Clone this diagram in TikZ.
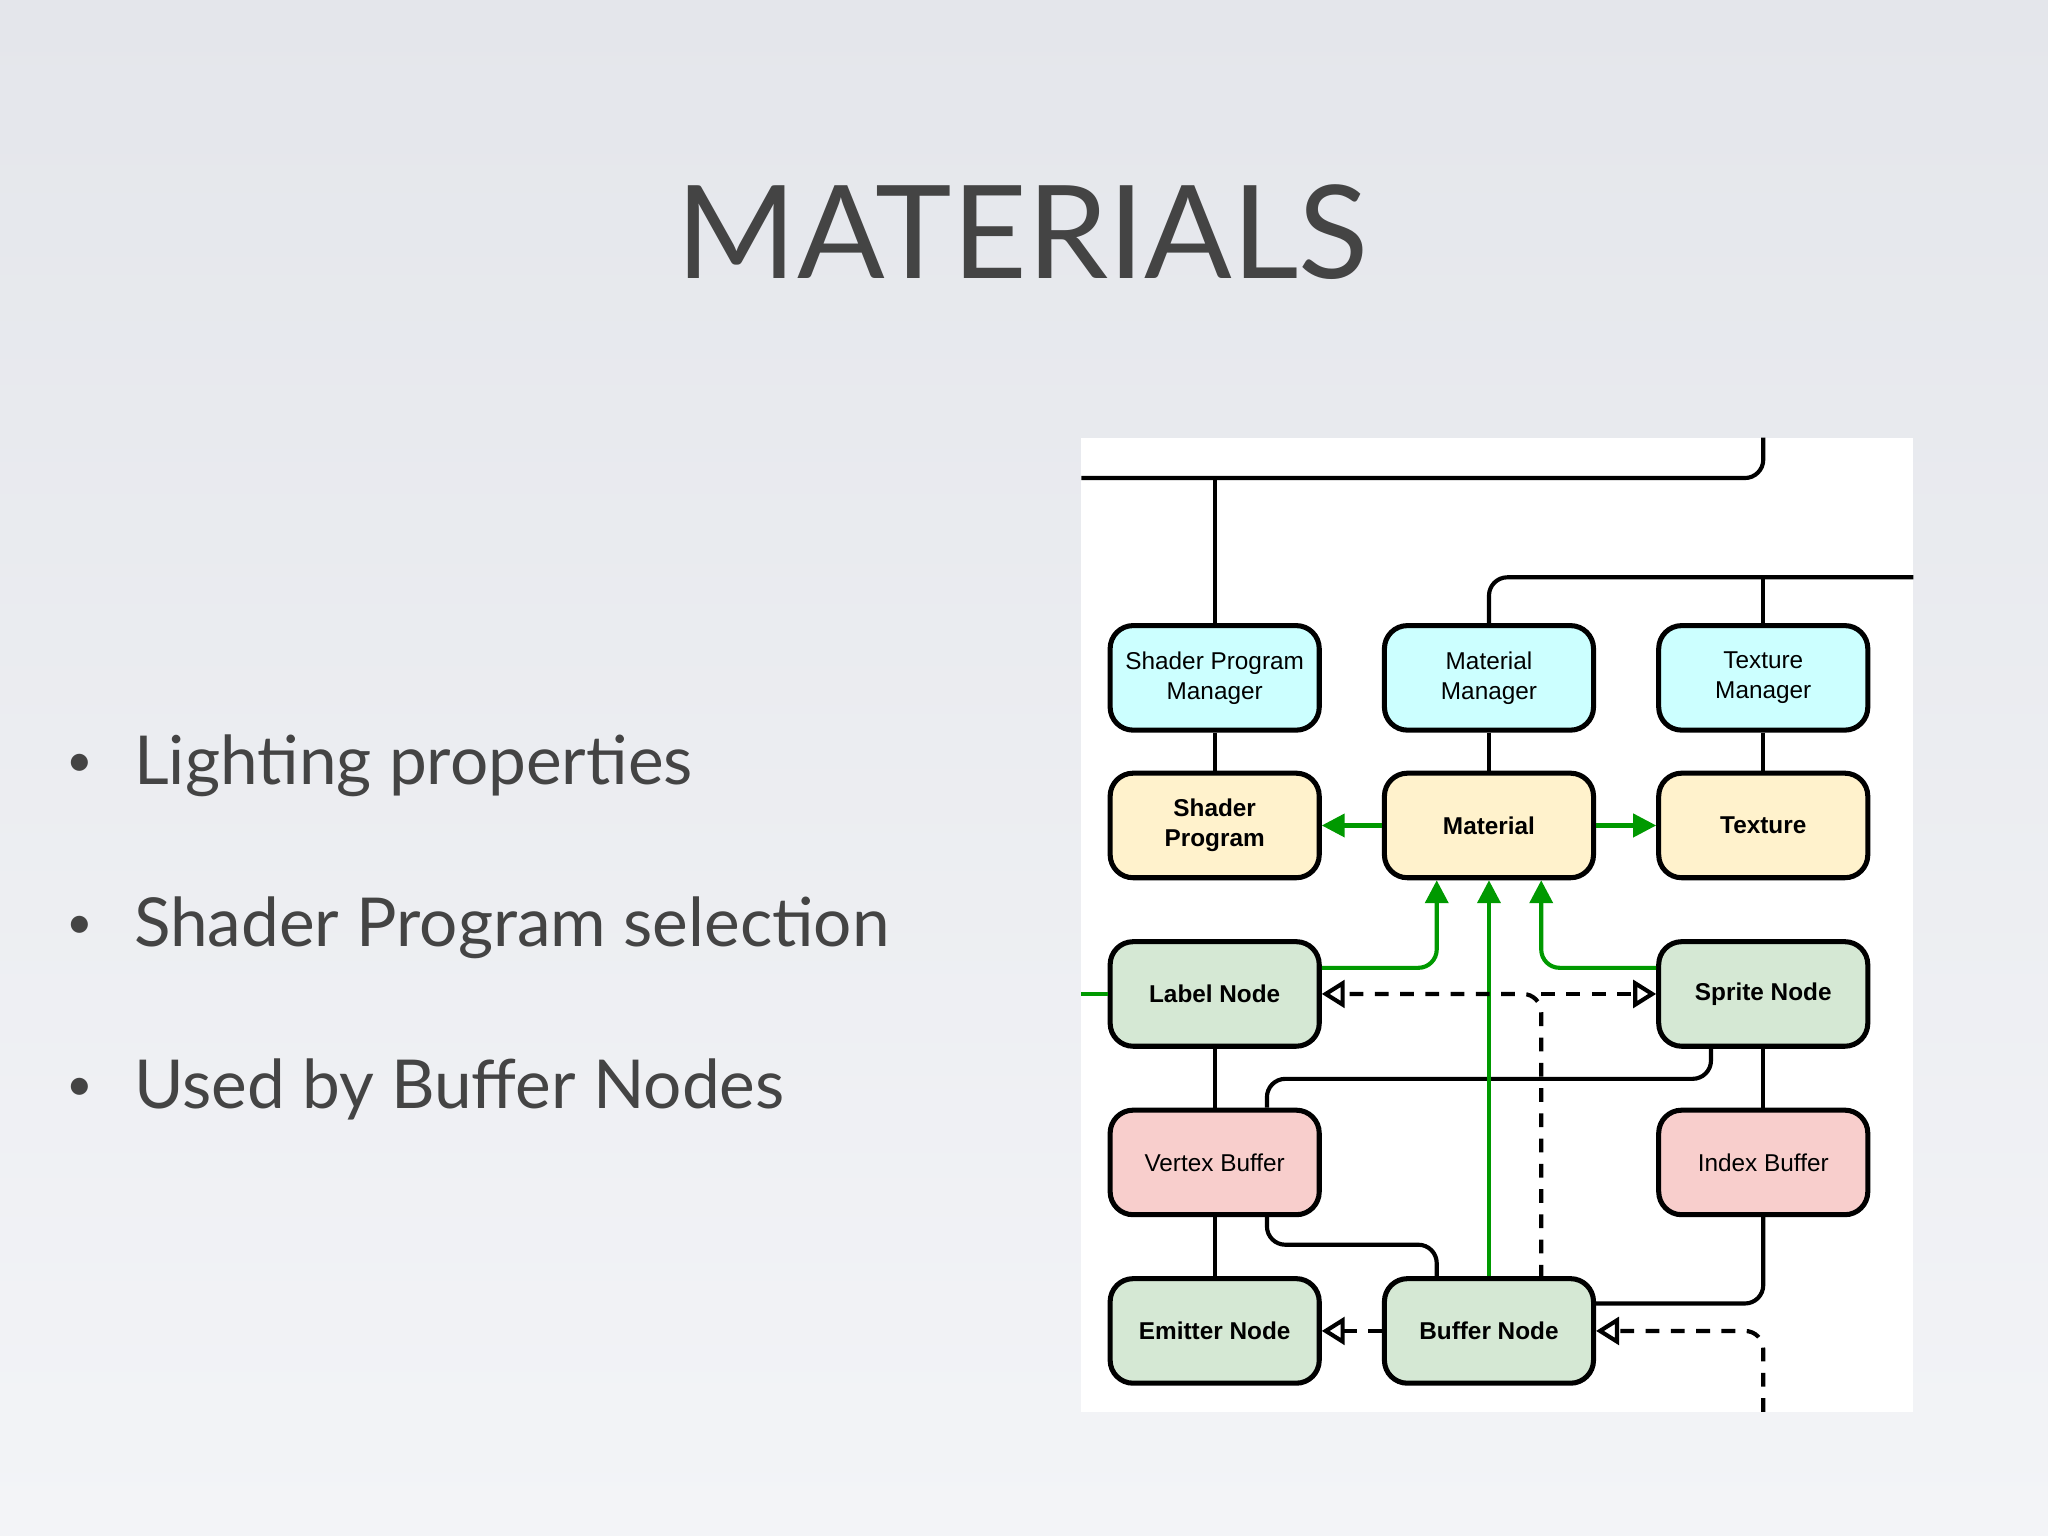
\documentclass[tikz,border=0pt]{standalone}
\usepackage{fontspec}
\setmainfont{Lato}
\newfontfamily\diag{Liberation Sans}
\usetikzlibrary{arrows.meta}
\definecolor{bgA}{HTML}{E4E6EB}
\definecolor{bgB}{HTML}{F3F4F7}
\definecolor{mgr}{HTML}{CCFFFF}
\definecolor{obj}{HTML}{FFF2CC}
\definecolor{nod}{HTML}{D5E8D4}
\definecolor{buf}{HTML}{F8CECC}
\definecolor{grn}{HTML}{009900}
\definecolor{ink}{HTML}{444444}
\begin{document}
\begin{tikzpicture}[x=0.01cm,y=-0.01cm,
  box/.style={draw=black,line width=1.1pt,rounded corners=5pt,minimum width=1.6cm,minimum height=0.8cm,
    align=center,font=\diag\fontsize{5.3}{6.6}\selectfont,inner sep=1pt},
  bl/.style={draw=black,line width=0.9pt,rounded corners=4pt},
  gr/.style={draw=grn,line width=0.9pt,rounded corners=4pt,-{Triangle[length=5pt,width=5pt]}},
  ds/.style={draw=black,line width=0.9pt,dash pattern=on 3pt off 2.5pt,rounded corners=4pt,-{Triangle[open,length=5pt,width=6pt]}}]
\useasboundingbox (0,0) rectangle (1568,1176);
\shade[top color=bgA,bottom color=bgB] (0,0) rectangle (1568,1176);
\node[font=\fontsize{28.2}{32}\selectfont,text=ink] (title) at (783,178) {MATERIALS};
\foreach \t/\yy [count=\i] in {Lighting properties/586,Shader Program selection/710,Used by Buffer Nodes/834}{
  \node[font=\fontsize{10}{12}\selectfont,text=ink] (d\i) at (61,\yy) {\textbullet};
  \node[font=\fontsize{14.7}{18}\selectfont,text=ink,anchor=west,inner sep=0pt] (b\i) at (102,\yy) {\t};
}
\fill[white] (828,335) rectangle (1465,1081);
\node[box,fill=mgr] (spm) at (930,519) {Shader Program\\Manager};
\node[box,fill=mgr] (mm) at (1140,519) {Material\\Manager};
\node[box,fill=mgr] (tm) at (1350,519) {Texture\\Manager};
\node[box,fill=obj] (sp) at (930,632) {\bfseries Shader\\\bfseries Program};
\node[box,fill=obj] (mat) at (1140,632) {\bfseries Material};
\node[box,fill=obj] (tex) at (1350,632) {\bfseries Texture};
\node[box,fill=nod] (ln) at (930,761) {\bfseries Label Node};
\node[box,fill=nod] (sn) at (1350,761) {\bfseries Sprite Node};
\node[box,fill=buf] (vb) at (930,890) {Vertex Buffer};
\node[box,fill=buf] (ib) at (1350,890) {Index Buffer};
\node[box,fill=nod] (en) at (930,1019) {\bfseries Emitter Node};
\node[box,fill=nod] (bn) at (1140,1019) {\bfseries Buffer Node};
\coordinate (t1) at (828,366);
\coordinate (t2) at (1350,335);
\coordinate (r1) at (1465,442);
\coordinate (g1) at (828,761);
\coordinate (d1) at (1350,1081);
% black links
\draw[bl] (t1) -- (1350,366) -- (t2);
\draw[bl] (spm.north) -- (930,366);
\draw[bl] (mm.north) -- (1140,442) -- (r1);
\draw[bl] (tm.north) -- (1350,442);
\draw[bl] (spm) -- (sp); \draw[bl] (mm) -- (mat); \draw[bl] (tm) -- (tex);
\draw[bl] (ln) -- (vb); \draw[bl] (vb) -- (en); \draw[bl] (sn) -- (ib);
\draw[bl] (sn.south -| 1310,0) -- (1310,826) -- (970,826) -- (vb.north -| 970,0);
\draw[bl] (vb.south -| 970,0) -- (970,953) -- (1100,953) -- (bn.north -| 1100,0);
\draw[bl] (ib.south) -- (1350,998) -- (bn.east |- 0,998);
% green links
\draw[gr] (mat) -- (sp);
\draw[gr] (mat) -- (tex);
\draw[gr] (ln.east |- 0,741) -- (1100,741) -- (mat.south -| 1100,0);
\draw[gr] (sn.west |- 0,741) -- (1180,741) -- (mat.south -| 1180,0);
\draw[gr] (bn) -- (mat);
\draw[draw=grn,line width=0.9pt] (g1) -- (ln);
% dashed links
\draw[ds] (1180,979) -- (1180,761) -- (ln.east);
\draw[ds] (1180,761) -- (sn.west);
\draw[ds] (bn) -- (en);
\draw[ds] (d1) -- (1350,1019) -- (bn.east);
\end{tikzpicture}
\end{document}
